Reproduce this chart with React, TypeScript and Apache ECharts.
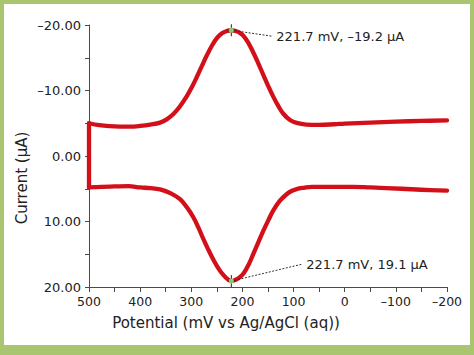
import React, { useEffect, useRef } from "react";
import * as echarts from "echarts";

// Upper branch (shown at top since the current axis is inverted): potential (mV), current (µA)
const upperPotential = [500, 480, 460, 440, 420, 400, 380, 361, 348, 335, 322, 309, 299, 289, 279, 270, 260, 250, 240, 230, 221.7, 212, 205, 198, 189, 179, 169, 159, 150, 140, 130, 120, 107, 94, 75, 50, 20, 0, -50, -100, -150, -200];
const upperCurrent = [-5.0, -4.7, -4.55, -4.5, -4.5, -4.6, -4.8, -5.1, -5.6, -6.4, -7.6, -9.1, -10.5, -12.1, -13.8, -15.3, -16.8, -18.0, -18.75, -19.1, -19.2, -19.05, -18.8, -18.35, -17.35, -15.85, -14.15, -12.35, -10.75, -9.1, -7.65, -6.45, -5.5, -5.05, -4.8, -4.75, -4.85, -4.95, -5.1, -5.25, -5.35, -5.45];

// Lower branch
const lowerPotential = [-200, -150, -111, -50, -14, 30, 64, 80, 94, 104, 113, 127, 139.6, 149, 159, 169, 178.7, 188, 198, 205, 212, 221.7, 229, 237, 247, 257, 267, 276.5, 286, 296, 309, 322, 340, 361, 380, 400, 423, 450, 475, 500];
const lowerCurrent = [5.3, 5.15, 5.0, 4.8, 4.7, 4.7, 4.7, 4.85, 5.05, 5.35, 5.8, 6.85, 8.3, 9.75, 11.4, 13.2, 14.95, 16.6, 17.95, 18.5, 18.85, 19.1, 18.8, 18.2, 17.15, 15.8, 14.25, 12.65, 10.95, 9.35, 7.8, 6.6, 5.7, 5.1, 4.9, 4.8, 4.6, 4.65, 4.7, 4.8];

// Switching segment at 500 mV
const switchPotential = [500, 500];
const switchCurrent = [-5.0, 4.8];

// Peaks
const peakPotential = [221.7, 221.7];
const peakCurrent = [-19.2, 19.1];

// Axis ranges / ticks
const xMin = -200;
const xMax = 500;
const xStep = 50;
const yMin = -20;
const yMax = 20;
const yStep = 5;

const xTitle = "Potential (mV vs Ag/AgCl (aq))";
const yTitle = "Current (µA)";

const DASH = "\u2013";
const fmtNum = (v: number, d: number) => (v < 0 ? DASH + Math.abs(v).toFixed(d) : Math.abs(v).toFixed(d));

const zip = (a: number[], b: number[]) => a.map((v, i) => [v, b[i]]);

const FONT = "DejaVu Sans";
const RED = "#d3101a";
const AXIS = "#4a4a4a";
const TEXT = "#222222";

export default function App() {
  const ref = useRef<HTMLDivElement>(null);
  useEffect(() => {
    if (!ref.current) return;
    const chart = echarts.init(ref.current, null, { renderer: "svg" });
    const lineSeries = (data: number[][], smooth: number | boolean) => ({
      type: "line",
      data,
      smooth,
      showSymbol: false,
      symbol: "none",
      lineStyle: { color: RED, width: 4.3, cap: "round", join: "round" },
      z: 3,
    });
    chart.setOption({
      animation: false,
      backgroundColor: "#a9c56f",
      grid: { left: 89, right: 27, top: 25, bottom: 68, containLabel: false },
      xAxis: {
        type: "value",
        min: xMin,
        max: xMax,
        interval: xStep,
        inverse: true,
        splitLine: { show: false },
        axisLine: { show: true, onZero: false, lineStyle: { color: AXIS, width: 1 } },
        axisTick: { show: true, inside: false, length: 5, lineStyle: { color: AXIS } },
        axisLabel: {
          margin: 8,
          color: TEXT,
          fontFamily: FONT,
          fontSize: 12.5,
          formatter: (v: number) => (v % 100 === 0 ? fmtNum(v, 0) : ""),
        },
      },
      yAxis: {
        type: "value",
        min: yMin,
        max: yMax,
        interval: yStep,
        inverse: true,
        splitLine: { show: false },
        axisLine: { show: true, onZero: false, lineStyle: { color: AXIS, width: 1 } },
        axisTick: { show: true, inside: false, length: 4, lineStyle: { color: AXIS } },
        axisLabel: {
          margin: 8,
          color: TEXT,
          fontFamily: FONT,
          fontSize: 13,
          formatter: (v: number) => (v % 10 === 0 ? fmtNum(v, 2) : ""),
        },
      },
      series: [
        lineSeries(zip(upperPotential, upperCurrent), 0.4),
        lineSeries(zip(switchPotential, switchCurrent), false),
        lineSeries(zip(lowerPotential, lowerCurrent), 0.4),
      ],
    });

    // Annotation geometry (pixel offsets from each peak)
    const labelOffsets = [
      { lx: 41, ly: 6, tx: 45 },
      { lx: 71, ly: -17, tx: 75 },
    ];
    const annotations: any[] = [];
    peakPotential.forEach((p, i) => {
      const pt = chart.convertToPixel({ gridIndex: 0 }, [p, peakCurrent[i]]) as number[];
      const [px, py] = pt;
      const o = labelOffsets[i];
      annotations.push(
        {
          type: "line",
          shape: { x1: px, y1: py, x2: px + o.lx, y2: py + o.ly },
          style: { stroke: "#333", lineWidth: 1, lineDash: [2, 1.5] },
          z: 10,
        },
        {
          type: "line",
          shape: { x1: px, y1: py - 6, x2: px, y2: py + 6 },
          style: { stroke: "#222", lineWidth: 1 },
          z: 10,
        },
        {
          type: "line",
          shape: { x1: px - 4, y1: py, x2: px + 4, y2: py },
          style: { stroke: "#222", lineWidth: 1 },
          z: 10,
        },
        {
          type: "circle",
          shape: { cx: px, cy: py, r: 2.6 },
          style: { fill: "#8fdc74", opacity: 0.9 },
          z: 11,
        },
        {
          type: "text",
          x: px + o.tx,
          y: py + o.ly,
          style: {
            text: `${p.toFixed(1)} mV, ${fmtNum(peakCurrent[i], 1)} µA`,
            fill: TEXT,
            font: `13px '${FONT}'`,
            align: "left",
            verticalAlign: "middle",
          },
          z: 10,
        }
      );
    });

    chart.setOption({
      graphic: [
        {
          type: "rect",
          shape: { x: 4, y: 4, width: 466, height: 341 },
          style: { fill: "#ffffff" },
          z: -10,
          silent: true,
        },
        {
          type: "text",
          x: 226,
          y: 323,
          style: {
            text: xTitle,
            fill: TEXT,
            font: `15px '${FONT}'`,
            align: "center",
            verticalAlign: "middle",
          },
        },
        {
          type: "text",
          x: 22,
          y: 178,
          rotation: Math.PI / 2,
          style: {
            text: yTitle,
            fill: TEXT,
            font: `15px '${FONT}'`,
            align: "center",
            verticalAlign: "middle",
          },
        },
        ...annotations,
      ],
    });
    return () => chart.dispose();
  }, []);
  return (
    <div
      ref={ref}
      style={{ position: "fixed", left: 0, top: 0, width: 474, height: 355 }}
    />
  );
}
